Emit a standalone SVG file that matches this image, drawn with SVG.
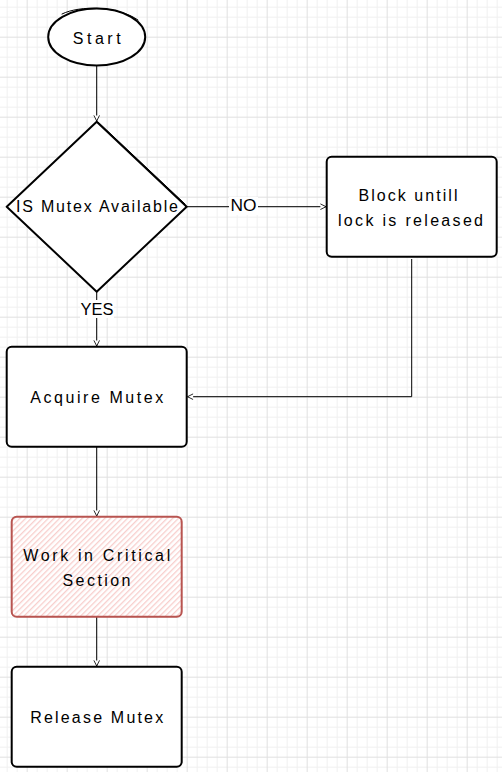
<svg xmlns="http://www.w3.org/2000/svg" width="502" height="772" viewBox="0 0 502 772">
<defs>
<style>
.shape{fill:#ffffff;stroke:#000000;stroke-width:2;stroke-linejoin:round;stroke-linecap:round}
.sk{fill:none;stroke:#000000;stroke-width:1;stroke-linecap:round}
.crit{fill:url(#hatch);stroke:#b85450;stroke-width:2;stroke-linejoin:round}
.edge{fill:none;stroke:#000000;stroke-width:1}
.lbl{font-family:"Liberation Sans",Arial,sans-serif;font-size:16px;fill:#000000;text-anchor:middle}
</style>
<pattern id="grid" patternUnits="userSpaceOnUse" x="6.67" y="6.67" width="40" height="40">
<rect width="40" height="40" fill="#ffffff"/>
<path d="M0.5 0V40M10.5 0V40M30.5 0V40M0 0.5H40M0 10.5H40M0 20.5H40" stroke="#f0f0f0" stroke-width="1"/>
<path d="M20.5 0V40M0 30.5H40" stroke="#e0e0e0" stroke-width="1"/>
</pattern>
<pattern id="hatch" patternUnits="userSpaceOnUse" width="4" height="4" patternTransform="rotate(45)">
<rect width="4" height="4" fill="#ffffff"/>
<rect width="1.3" height="4" fill="#f8cecc"/>
</pattern>
<marker id="arr" viewBox="0 0 10 10" refX="9" refY="5" markerWidth="7" markerHeight="7" orient="auto" markerUnits="userSpaceOnUse">
<path d="M1 1L9 5L1 9" fill="#ffffff" stroke="#000000" stroke-width="1.2"/>
</marker>
</defs>
<rect width="502" height="772" fill="url(#grid)"/>

<g id="connectors">
<path class="edge" d="M96.7 66V121" marker-end="url(#arr)"/>
<path class="edge" d="M186.7 206.7H326" marker-end="url(#arr)"/>
<rect x="229" y="197" width="29" height="18" fill="#ffffff"/>
<text class="lbl" x="243.5" y="211" textLength="26" lengthAdjust="spacingAndGlyphs">NO</text>
<path class="edge" d="M96.7 291.7V346" marker-end="url(#arr)"/>
<rect x="80" y="300" width="34" height="18" fill="#ffffff"/>
<text class="lbl" x="97" y="315" textLength="33" lengthAdjust="spacingAndGlyphs">YES</text>
<path class="edge" d="M411.7 259V396.7H187.5" marker-end="url(#arr)"/>
<path class="edge" d="M96.7 446.7V516" marker-end="url(#arr)"/>
<path class="edge" d="M96.7 616.7V666" marker-end="url(#arr)"/>
</g>

<g id="start">
<ellipse class="shape" cx="96.7" cy="37" rx="48.5" ry="28.5"/>
<path class="sk" d="M62 14C80 5 118 6 138 20"/>
<text class="lbl" x="96.7" y="43.5" textLength="48" lengthAdjust="spacing">Start</text>
</g>

<g id="decision">
<path class="shape" d="M96.7 121.7L186.7 206.7L96.7 291.7L6.7 206.7Z"/>
<path class="sk" d="M98 122L185 204"/>
<text class="lbl" x="97" y="212" textLength="162" lengthAdjust="spacing">IS Mutex Available</text>
</g>

<g id="block">
<rect class="shape" x="326.7" y="156.7" width="170" height="100" rx="5"/>
<text class="lbl" x="408" y="201" textLength="99" lengthAdjust="spacing">Block untill</text>
<text class="lbl" x="410.5" y="225.5" textLength="145" lengthAdjust="spacing">lock is released</text>
</g>

<g id="acquire">
<rect class="shape" x="6.7" y="346.7" width="180" height="100" rx="5"/>
<text class="lbl" x="96.7" y="403" textLength="133" lengthAdjust="spacing">Acquire Mutex</text>
</g>

<g id="critical">
<rect class="crit" x="11.7" y="516.7" width="170" height="100" rx="5"/>
<text class="lbl" x="96.7" y="561" textLength="147" lengthAdjust="spacing">Work in Critical</text>
<text class="lbl" x="96.5" y="585.5" textLength="68" lengthAdjust="spacing">Section</text>
</g>

<g id="release">
<rect class="shape" x="11.7" y="666.7" width="170" height="100" rx="5"/>
<text class="lbl" x="96.7" y="723" textLength="133" lengthAdjust="spacing">Release Mutex</text>
</g>
</svg>
